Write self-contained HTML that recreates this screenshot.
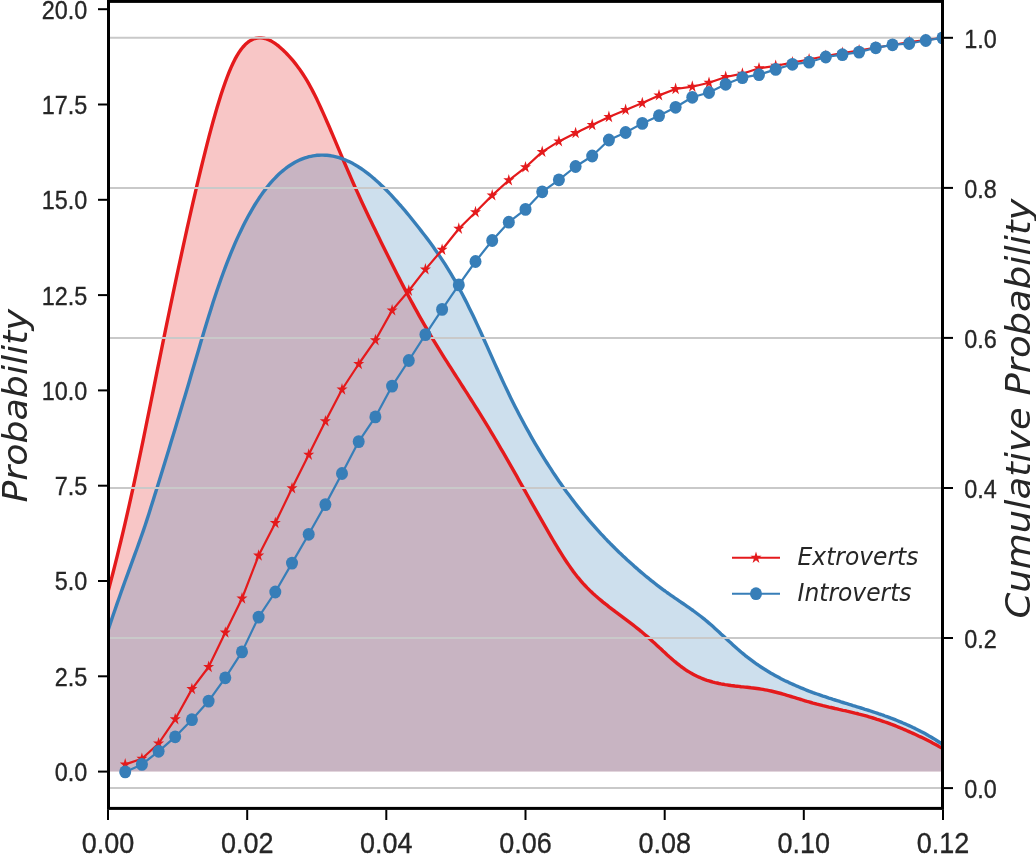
<!DOCTYPE html><html><head><meta charset="utf-8"><title>Probability</title>
<style>html,body{margin:0;padding:0;background:#fff}svg{display:block}.t{font-family:"Liberation Sans",sans-serif;fill:#262626;stroke:#262626;stroke-width:0.35px}.l{font-family:"DejaVu Sans","Liberation Sans",sans-serif;font-style:italic;fill:#262626}</style></head><body>
<svg width="1036" height="854" viewBox="0 0 1036 854">
<rect width="1036" height="854" fill="#fff"/>
<defs><clipPath id="ax"><rect x="108.5" y="1.4" width="834.0" height="807.0"/></clipPath></defs>
<g clip-path="url(#ax)">
<path d="M107.0,595.6 L109.0,588.1 L111.0,580.4 L113.0,572.7 L115.0,564.8 L117.0,556.8 L119.0,548.7 L121.0,540.5 L123.0,532.1 L125.0,523.6 L127.0,514.9 L129.0,506.1 L131.0,497.2 L133.0,488.1 L135.0,478.9 L137.0,469.5 L139.0,460.0 L141.0,450.5 L143.0,440.8 L145.0,431.0 L147.0,421.2 L149.0,411.4 L151.0,401.5 L153.0,391.6 L155.0,381.6 L157.0,371.7 L159.0,361.8 L161.0,352.0 L163.0,342.2 L165.0,332.4 L167.0,322.7 L169.0,313.0 L171.0,303.4 L173.0,293.8 L175.0,284.3 L177.0,274.9 L179.0,265.5 L181.0,256.3 L183.0,247.1 L185.0,238.0 L187.0,228.9 L189.0,220.0 L191.0,211.2 L193.0,202.4 L195.0,193.8 L197.0,185.2 L199.0,176.8 L201.0,168.5 L203.0,160.3 L205.0,152.3 L207.0,144.4 L209.0,136.6 L211.0,129.1 L213.0,121.8 L215.0,114.7 L217.0,107.8 L219.0,101.2 L221.0,94.8 L223.0,88.7 L225.0,83.0 L227.0,77.5 L229.0,72.4 L231.0,67.6 L233.0,63.2 L235.0,59.2 L237.0,55.6 L239.0,52.4 L241.0,49.5 L243.0,47.0 L245.0,44.8 L247.0,43.0 L249.0,41.4 L251.0,40.2 L253.0,39.2 L255.0,38.5 L257.0,38.1 L259.0,37.9 L261.0,37.9 L263.0,38.1 L265.0,38.5 L267.0,39.2 L269.0,40.0 L271.0,40.9 L273.0,42.1 L275.0,43.4 L277.0,44.8 L279.0,46.4 L281.0,48.2 L283.0,50.0 L285.0,51.9 L287.0,54.0 L289.0,56.1 L291.0,58.3 L293.0,60.7 L295.0,63.1 L297.0,65.7 L299.0,68.4 L301.0,71.3 L303.0,74.3 L305.0,77.4 L307.0,80.7 L309.0,84.2 L311.0,87.8 L313.0,91.6 L315.0,95.6 L317.0,99.6 L319.0,103.9 L321.0,108.2 L323.0,112.6 L325.0,117.1 L327.0,121.7 L329.0,126.3 L331.0,131.0 L333.0,135.7 L335.0,140.4 L337.0,145.1 L339.0,149.9 L341.0,154.6 L343.0,159.3 L345.0,164.0 L347.0,168.7 L349.0,173.3 L351.0,177.9 L353.0,182.5 L355.0,187.0 L357.0,191.4 L359.0,195.8 L361.0,200.2 L363.0,204.5 L365.0,208.7 L367.0,213.0 L369.0,217.2 L371.0,221.3 L373.0,225.5 L375.0,229.6 L377.0,233.7 L379.0,237.8 L381.0,241.9 L383.0,246.0 L385.0,250.1 L387.0,254.1 L389.0,258.1 L391.0,262.1 L393.0,266.1 L395.0,270.1 L397.0,274.0 L399.0,277.9 L401.0,281.8 L403.0,285.6 L405.0,289.5 L407.0,293.3 L409.0,297.0 L411.0,300.7 L413.0,304.4 L415.0,308.1 L417.0,311.7 L419.0,315.3 L421.0,318.8 L423.0,322.3 L425.0,325.8 L427.0,329.2 L429.0,332.6 L431.0,336.0 L433.0,339.3 L435.0,342.6 L437.0,345.9 L439.0,349.1 L441.0,352.4 L443.0,355.6 L445.0,358.8 L447.0,361.9 L449.0,365.1 L451.0,368.2 L453.0,371.4 L455.0,374.5 L457.0,377.6 L459.0,380.7 L461.0,383.8 L463.0,387.0 L465.0,390.1 L467.0,393.2 L469.0,396.3 L471.0,399.5 L473.0,402.6 L475.0,405.8 L477.0,409.0 L479.0,412.2 L481.0,415.4 L483.0,418.6 L485.0,421.9 L487.0,425.1 L489.0,428.4 L491.0,431.8 L493.0,435.1 L495.0,438.5 L497.0,441.9 L499.0,445.3 L501.0,448.8 L503.0,452.2 L505.0,455.7 L507.0,459.2 L509.0,462.7 L511.0,466.2 L513.0,469.7 L515.0,473.2 L517.0,476.7 L519.0,480.3 L521.0,483.8 L523.0,487.4 L525.0,490.9 L527.0,494.5 L529.0,498.0 L531.0,501.6 L533.0,505.1 L535.0,508.6 L537.0,512.2 L539.0,515.7 L541.0,519.2 L543.0,522.7 L545.0,526.2 L547.0,529.7 L549.0,533.1 L551.0,536.6 L553.0,540.0 L555.0,543.4 L557.0,546.7 L559.0,550.0 L561.0,553.2 L563.0,556.4 L565.0,559.5 L567.0,562.5 L569.0,565.4 L571.0,568.3 L573.0,571.1 L575.0,573.7 L577.0,576.3 L579.0,578.7 L581.0,581.1 L583.0,583.4 L585.0,585.5 L587.0,587.6 L589.0,589.6 L591.0,591.6 L593.0,593.5 L595.0,595.3 L597.0,597.0 L599.0,598.7 L601.0,600.4 L603.0,602.1 L605.0,603.7 L607.0,605.2 L609.0,606.8 L611.0,608.3 L613.0,609.8 L615.0,611.4 L617.0,612.9 L619.0,614.4 L621.0,615.9 L623.0,617.4 L625.0,618.9 L627.0,620.4 L629.0,621.9 L631.0,623.4 L633.0,624.9 L635.0,626.5 L637.0,628.1 L639.0,629.7 L641.0,631.3 L643.0,633.0 L645.0,634.7 L647.0,636.4 L649.0,638.1 L651.0,639.9 L653.0,641.8 L655.0,643.6 L657.0,645.4 L659.0,647.3 L661.0,649.1 L663.0,651.0 L665.0,652.8 L667.0,654.7 L669.0,656.5 L671.0,658.2 L673.0,660.0 L675.0,661.7 L677.0,663.3 L679.0,664.9 L681.0,666.5 L683.0,667.9 L685.0,669.4 L687.0,670.7 L689.0,671.9 L691.0,673.1 L693.0,674.2 L695.0,675.3 L697.0,676.3 L699.0,677.2 L701.0,678.0 L703.0,678.8 L705.0,679.6 L707.0,680.3 L709.0,680.9 L711.0,681.5 L713.0,682.1 L715.0,682.6 L717.0,683.0 L719.0,683.5 L721.0,683.9 L723.0,684.2 L725.0,684.6 L727.0,684.9 L729.0,685.2 L731.0,685.5 L733.0,685.7 L735.0,686.0 L737.0,686.2 L739.0,686.4 L741.0,686.7 L743.0,686.9 L745.0,687.1 L747.0,687.3 L749.0,687.5 L751.0,687.8 L753.0,688.0 L755.0,688.2 L757.0,688.5 L759.0,688.8 L761.0,689.1 L763.0,689.4 L765.0,689.8 L767.0,690.2 L769.0,690.6 L771.0,691.0 L773.0,691.5 L775.0,692.0 L777.0,692.5 L779.0,693.0 L781.0,693.5 L783.0,694.1 L785.0,694.7 L787.0,695.3 L789.0,695.9 L791.0,696.5 L793.0,697.1 L795.0,697.7 L797.0,698.3 L799.0,698.9 L801.0,699.5 L803.0,700.2 L805.0,700.8 L807.0,701.4 L809.0,701.9 L811.0,702.5 L813.0,703.1 L815.0,703.6 L817.0,704.2 L819.0,704.7 L821.0,705.2 L823.0,705.7 L825.0,706.1 L827.0,706.6 L829.0,707.1 L831.0,707.5 L833.0,708.0 L835.0,708.5 L837.0,708.9 L839.0,709.4 L841.0,709.8 L843.0,710.3 L845.0,710.7 L847.0,711.2 L849.0,711.6 L851.0,712.1 L853.0,712.6 L855.0,713.1 L857.0,713.5 L859.0,714.1 L861.0,714.6 L863.0,715.1 L865.0,715.6 L867.0,716.2 L869.0,716.8 L871.0,717.4 L873.0,718.0 L875.0,718.6 L877.0,719.3 L879.0,719.9 L881.0,720.6 L883.0,721.3 L885.0,722.0 L887.0,722.7 L889.0,723.4 L891.0,724.2 L893.0,724.9 L895.0,725.7 L897.0,726.5 L899.0,727.3 L901.0,728.2 L903.0,729.0 L905.0,729.8 L907.0,730.7 L909.0,731.6 L911.0,732.5 L913.0,733.4 L915.0,734.3 L917.0,735.2 L919.0,736.2 L921.0,737.1 L923.0,738.1 L925.0,739.1 L927.0,740.1 L929.0,741.1 L931.0,742.1 L933.0,743.2 L935.0,744.2 L937.0,745.3 L939.0,746.4 L941.0,747.4 L943.0,748.5 L943.0,771.6 L107.0,771.6 Z" fill="#e41a1c" fill-opacity="0.25"/>
<path d="M107.0,633.4 L109.0,627.4 L111.0,621.4 L113.0,615.5 L115.0,609.7 L117.0,603.9 L119.0,598.2 L121.0,592.5 L123.0,586.9 L125.0,581.3 L127.0,575.8 L129.0,570.3 L131.0,564.8 L133.0,559.4 L135.0,553.9 L137.0,548.5 L139.0,542.9 L141.0,537.3 L143.0,531.6 L145.0,525.7 L147.0,519.6 L149.0,513.4 L151.0,507.1 L153.0,500.7 L155.0,494.3 L157.0,487.9 L159.0,481.4 L161.0,474.9 L163.0,468.4 L165.0,461.9 L167.0,455.4 L169.0,448.9 L171.0,442.3 L173.0,435.8 L175.0,429.2 L177.0,422.6 L179.0,416.0 L181.0,409.3 L183.0,402.6 L185.0,395.9 L187.0,389.2 L189.0,382.4 L191.0,375.6 L193.0,368.8 L195.0,362.0 L197.0,355.2 L199.0,348.4 L201.0,341.6 L203.0,334.9 L205.0,328.3 L207.0,321.7 L209.0,315.3 L211.0,308.9 L213.0,302.6 L215.0,296.5 L217.0,290.5 L219.0,284.7 L221.0,279.0 L223.0,273.5 L225.0,268.1 L227.0,262.9 L229.0,257.8 L231.0,252.9 L233.0,248.1 L235.0,243.4 L237.0,238.9 L239.0,234.6 L241.0,230.4 L243.0,226.3 L245.0,222.3 L247.0,218.5 L249.0,214.8 L251.0,211.3 L253.0,207.8 L255.0,204.5 L257.0,201.4 L259.0,198.3 L261.0,195.4 L263.0,192.5 L265.0,189.9 L267.0,187.3 L269.0,184.8 L271.0,182.4 L273.0,180.2 L275.0,178.1 L277.0,176.0 L279.0,174.1 L281.0,172.3 L283.0,170.6 L285.0,169.0 L287.0,167.4 L289.0,166.0 L291.0,164.7 L293.0,163.5 L295.0,162.3 L297.0,161.3 L299.0,160.3 L301.0,159.4 L303.0,158.6 L305.0,157.9 L307.0,157.3 L309.0,156.7 L311.0,156.3 L313.0,155.9 L315.0,155.6 L317.0,155.3 L319.0,155.2 L321.0,155.1 L323.0,155.1 L325.0,155.2 L327.0,155.3 L329.0,155.5 L331.0,155.8 L333.0,156.2 L335.0,156.6 L337.0,157.1 L339.0,157.7 L341.0,158.3 L343.0,159.0 L345.0,159.8 L347.0,160.7 L349.0,161.6 L351.0,162.6 L353.0,163.6 L355.0,164.8 L357.0,165.9 L359.0,167.2 L361.0,168.5 L363.0,169.9 L365.0,171.3 L367.0,172.8 L369.0,174.4 L371.0,176.0 L373.0,177.7 L375.0,179.4 L377.0,181.2 L379.0,183.0 L381.0,184.9 L383.0,186.8 L385.0,188.8 L387.0,190.8 L389.0,192.8 L391.0,194.9 L393.0,197.1 L395.0,199.3 L397.0,201.5 L399.0,203.8 L401.0,206.0 L403.0,208.4 L405.0,210.7 L407.0,213.1 L409.0,215.5 L411.0,218.0 L413.0,220.5 L415.0,223.0 L417.0,225.5 L419.0,228.0 L421.0,230.6 L423.0,233.2 L425.0,235.8 L427.0,238.4 L429.0,241.1 L431.0,243.8 L433.0,246.6 L435.0,249.4 L437.0,252.2 L439.0,255.1 L441.0,258.1 L443.0,261.1 L445.0,264.2 L447.0,267.4 L449.0,270.6 L451.0,273.9 L453.0,277.3 L455.0,280.7 L457.0,284.3 L459.0,287.9 L461.0,291.7 L463.0,295.5 L465.0,299.4 L467.0,303.3 L469.0,307.4 L471.0,311.5 L473.0,315.6 L475.0,319.8 L477.0,324.1 L479.0,328.4 L481.0,332.8 L483.0,337.2 L485.0,341.7 L487.0,346.1 L489.0,350.6 L491.0,355.1 L493.0,359.6 L495.0,364.1 L497.0,368.5 L499.0,372.9 L501.0,377.3 L503.0,381.6 L505.0,385.9 L507.0,390.1 L509.0,394.3 L511.0,398.4 L513.0,402.4 L515.0,406.4 L517.0,410.3 L519.0,414.2 L521.0,418.0 L523.0,421.8 L525.0,425.5 L527.0,429.1 L529.0,432.7 L531.0,436.3 L533.0,439.8 L535.0,443.3 L537.0,446.7 L539.0,450.0 L541.0,453.3 L543.0,456.6 L545.0,459.8 L547.0,463.0 L549.0,466.1 L551.0,469.2 L553.0,472.3 L555.0,475.3 L557.0,478.2 L559.0,481.2 L561.0,484.0 L563.0,486.9 L565.0,489.7 L567.0,492.4 L569.0,495.1 L571.0,497.8 L573.0,500.4 L575.0,503.0 L577.0,505.6 L579.0,508.1 L581.0,510.6 L583.0,513.1 L585.0,515.5 L587.0,517.9 L589.0,520.3 L591.0,522.6 L593.0,524.9 L595.0,527.2 L597.0,529.4 L599.0,531.6 L601.0,533.8 L603.0,535.9 L605.0,538.1 L607.0,540.2 L609.0,542.2 L611.0,544.3 L613.0,546.3 L615.0,548.3 L617.0,550.2 L619.0,552.2 L621.0,554.1 L623.0,556.0 L625.0,557.8 L627.0,559.7 L629.0,561.5 L631.0,563.3 L633.0,565.1 L635.0,566.9 L637.0,568.6 L639.0,570.4 L641.0,572.1 L643.0,573.8 L645.0,575.5 L647.0,577.1 L649.0,578.7 L651.0,580.4 L653.0,581.9 L655.0,583.5 L657.0,585.1 L659.0,586.6 L661.0,588.1 L663.0,589.6 L665.0,591.0 L667.0,592.5 L669.0,593.9 L671.0,595.3 L673.0,596.7 L675.0,598.1 L677.0,599.4 L679.0,600.8 L681.0,602.2 L683.0,603.5 L685.0,604.9 L687.0,606.3 L689.0,607.7 L691.0,609.1 L693.0,610.5 L695.0,612.0 L697.0,613.5 L699.0,615.0 L701.0,616.5 L703.0,618.1 L705.0,619.7 L707.0,621.4 L709.0,623.1 L711.0,624.8 L713.0,626.6 L715.0,628.4 L717.0,630.2 L719.0,632.0 L721.0,633.9 L723.0,635.7 L725.0,637.6 L727.0,639.4 L729.0,641.3 L731.0,643.1 L733.0,644.9 L735.0,646.7 L737.0,648.5 L739.0,650.2 L741.0,652.0 L743.0,653.6 L745.0,655.3 L747.0,656.9 L749.0,658.4 L751.0,659.9 L753.0,661.4 L755.0,662.9 L757.0,664.3 L759.0,665.6 L761.0,667.0 L763.0,668.3 L765.0,669.5 L767.0,670.8 L769.0,672.0 L771.0,673.2 L773.0,674.3 L775.0,675.4 L777.0,676.5 L779.0,677.6 L781.0,678.7 L783.0,679.7 L785.0,680.7 L787.0,681.6 L789.0,682.6 L791.0,683.5 L793.0,684.4 L795.0,685.3 L797.0,686.2 L799.0,687.0 L801.0,687.9 L803.0,688.7 L805.0,689.5 L807.0,690.3 L809.0,691.1 L811.0,691.8 L813.0,692.6 L815.0,693.3 L817.0,694.0 L819.0,694.7 L821.0,695.4 L823.0,696.1 L825.0,696.7 L827.0,697.4 L829.0,698.1 L831.0,698.7 L833.0,699.4 L835.0,700.0 L837.0,700.6 L839.0,701.2 L841.0,701.9 L843.0,702.5 L845.0,703.1 L847.0,703.7 L849.0,704.3 L851.0,704.9 L853.0,705.6 L855.0,706.2 L857.0,706.8 L859.0,707.4 L861.0,708.0 L863.0,708.6 L865.0,709.3 L867.0,709.9 L869.0,710.5 L871.0,711.2 L873.0,711.8 L875.0,712.5 L877.0,713.2 L879.0,713.9 L881.0,714.5 L883.0,715.2 L885.0,716.0 L887.0,716.7 L889.0,717.4 L891.0,718.2 L893.0,718.9 L895.0,719.7 L897.0,720.5 L899.0,721.3 L901.0,722.1 L903.0,723.0 L905.0,723.8 L907.0,724.7 L909.0,725.6 L911.0,726.5 L913.0,727.5 L915.0,728.4 L917.0,729.4 L919.0,730.4 L921.0,731.5 L923.0,732.5 L925.0,733.6 L927.0,734.7 L929.0,735.9 L931.0,737.0 L933.0,738.2 L935.0,739.4 L937.0,740.7 L939.0,742.0 L941.0,743.3 L943.0,744.6 L943.0,771.6 L107.0,771.6 Z" fill="#377eb8" fill-opacity="0.25"/>
<path d="M107.0,595.6 L109.0,588.1 L111.0,580.4 L113.0,572.7 L115.0,564.8 L117.0,556.8 L119.0,548.7 L121.0,540.5 L123.0,532.1 L125.0,523.6 L127.0,514.9 L129.0,506.1 L131.0,497.2 L133.0,488.1 L135.0,478.9 L137.0,469.5 L139.0,460.0 L141.0,450.5 L143.0,440.8 L145.0,431.0 L147.0,421.2 L149.0,411.4 L151.0,401.5 L153.0,391.6 L155.0,381.6 L157.0,371.7 L159.0,361.8 L161.0,352.0 L163.0,342.2 L165.0,332.4 L167.0,322.7 L169.0,313.0 L171.0,303.4 L173.0,293.8 L175.0,284.3 L177.0,274.9 L179.0,265.5 L181.0,256.3 L183.0,247.1 L185.0,238.0 L187.0,228.9 L189.0,220.0 L191.0,211.2 L193.0,202.4 L195.0,193.8 L197.0,185.2 L199.0,176.8 L201.0,168.5 L203.0,160.3 L205.0,152.3 L207.0,144.4 L209.0,136.6 L211.0,129.1 L213.0,121.8 L215.0,114.7 L217.0,107.8 L219.0,101.2 L221.0,94.8 L223.0,88.7 L225.0,83.0 L227.0,77.5 L229.0,72.4 L231.0,67.6 L233.0,63.2 L235.0,59.2 L237.0,55.6 L239.0,52.4 L241.0,49.5 L243.0,47.0 L245.0,44.8 L247.0,43.0 L249.0,41.4 L251.0,40.2 L253.0,39.2 L255.0,38.5 L257.0,38.1 L259.0,37.9 L261.0,37.9 L263.0,38.1 L265.0,38.5 L267.0,39.2 L269.0,40.0 L271.0,40.9 L273.0,42.1 L275.0,43.4 L277.0,44.8 L279.0,46.4 L281.0,48.2 L283.0,50.0 L285.0,51.9 L287.0,54.0 L289.0,56.1 L291.0,58.3 L293.0,60.7 L295.0,63.1 L297.0,65.7 L299.0,68.4 L301.0,71.3 L303.0,74.3 L305.0,77.4 L307.0,80.7 L309.0,84.2 L311.0,87.8 L313.0,91.6 L315.0,95.6 L317.0,99.6 L319.0,103.9 L321.0,108.2 L323.0,112.6 L325.0,117.1 L327.0,121.7 L329.0,126.3 L331.0,131.0 L333.0,135.7 L335.0,140.4 L337.0,145.1 L339.0,149.9 L341.0,154.6 L343.0,159.3 L345.0,164.0 L347.0,168.7 L349.0,173.3 L351.0,177.9 L353.0,182.5 L355.0,187.0 L357.0,191.4 L359.0,195.8 L361.0,200.2 L363.0,204.5 L365.0,208.7 L367.0,213.0 L369.0,217.2 L371.0,221.3 L373.0,225.5 L375.0,229.6 L377.0,233.7 L379.0,237.8 L381.0,241.9 L383.0,246.0 L385.0,250.1 L387.0,254.1 L389.0,258.1 L391.0,262.1 L393.0,266.1 L395.0,270.1 L397.0,274.0 L399.0,277.9 L401.0,281.8 L403.0,285.6 L405.0,289.5 L407.0,293.3 L409.0,297.0 L411.0,300.7 L413.0,304.4 L415.0,308.1 L417.0,311.7 L419.0,315.3 L421.0,318.8 L423.0,322.3 L425.0,325.8 L427.0,329.2 L429.0,332.6 L431.0,336.0 L433.0,339.3 L435.0,342.6 L437.0,345.9 L439.0,349.1 L441.0,352.4 L443.0,355.6 L445.0,358.8 L447.0,361.9 L449.0,365.1 L451.0,368.2 L453.0,371.4 L455.0,374.5 L457.0,377.6 L459.0,380.7 L461.0,383.8 L463.0,387.0 L465.0,390.1 L467.0,393.2 L469.0,396.3 L471.0,399.5 L473.0,402.6 L475.0,405.8 L477.0,409.0 L479.0,412.2 L481.0,415.4 L483.0,418.6 L485.0,421.9 L487.0,425.1 L489.0,428.4 L491.0,431.8 L493.0,435.1 L495.0,438.5 L497.0,441.9 L499.0,445.3 L501.0,448.8 L503.0,452.2 L505.0,455.7 L507.0,459.2 L509.0,462.7 L511.0,466.2 L513.0,469.7 L515.0,473.2 L517.0,476.7 L519.0,480.3 L521.0,483.8 L523.0,487.4 L525.0,490.9 L527.0,494.5 L529.0,498.0 L531.0,501.6 L533.0,505.1 L535.0,508.6 L537.0,512.2 L539.0,515.7 L541.0,519.2 L543.0,522.7 L545.0,526.2 L547.0,529.7 L549.0,533.1 L551.0,536.6 L553.0,540.0 L555.0,543.4 L557.0,546.7 L559.0,550.0 L561.0,553.2 L563.0,556.4 L565.0,559.5 L567.0,562.5 L569.0,565.4 L571.0,568.3 L573.0,571.1 L575.0,573.7 L577.0,576.3 L579.0,578.7 L581.0,581.1 L583.0,583.4 L585.0,585.5 L587.0,587.6 L589.0,589.6 L591.0,591.6 L593.0,593.5 L595.0,595.3 L597.0,597.0 L599.0,598.7 L601.0,600.4 L603.0,602.1 L605.0,603.7 L607.0,605.2 L609.0,606.8 L611.0,608.3 L613.0,609.8 L615.0,611.4 L617.0,612.9 L619.0,614.4 L621.0,615.9 L623.0,617.4 L625.0,618.9 L627.0,620.4 L629.0,621.9 L631.0,623.4 L633.0,624.9 L635.0,626.5 L637.0,628.1 L639.0,629.7 L641.0,631.3 L643.0,633.0 L645.0,634.7 L647.0,636.4 L649.0,638.1 L651.0,639.9 L653.0,641.8 L655.0,643.6 L657.0,645.4 L659.0,647.3 L661.0,649.1 L663.0,651.0 L665.0,652.8 L667.0,654.7 L669.0,656.5 L671.0,658.2 L673.0,660.0 L675.0,661.7 L677.0,663.3 L679.0,664.9 L681.0,666.5 L683.0,667.9 L685.0,669.4 L687.0,670.7 L689.0,671.9 L691.0,673.1 L693.0,674.2 L695.0,675.3 L697.0,676.3 L699.0,677.2 L701.0,678.0 L703.0,678.8 L705.0,679.6 L707.0,680.3 L709.0,680.9 L711.0,681.5 L713.0,682.1 L715.0,682.6 L717.0,683.0 L719.0,683.5 L721.0,683.9 L723.0,684.2 L725.0,684.6 L727.0,684.9 L729.0,685.2 L731.0,685.5 L733.0,685.7 L735.0,686.0 L737.0,686.2 L739.0,686.4 L741.0,686.7 L743.0,686.9 L745.0,687.1 L747.0,687.3 L749.0,687.5 L751.0,687.8 L753.0,688.0 L755.0,688.2 L757.0,688.5 L759.0,688.8 L761.0,689.1 L763.0,689.4 L765.0,689.8 L767.0,690.2 L769.0,690.6 L771.0,691.0 L773.0,691.5 L775.0,692.0 L777.0,692.5 L779.0,693.0 L781.0,693.5 L783.0,694.1 L785.0,694.7 L787.0,695.3 L789.0,695.9 L791.0,696.5 L793.0,697.1 L795.0,697.7 L797.0,698.3 L799.0,698.9 L801.0,699.5 L803.0,700.2 L805.0,700.8 L807.0,701.4 L809.0,701.9 L811.0,702.5 L813.0,703.1 L815.0,703.6 L817.0,704.2 L819.0,704.7 L821.0,705.2 L823.0,705.7 L825.0,706.1 L827.0,706.6 L829.0,707.1 L831.0,707.5 L833.0,708.0 L835.0,708.5 L837.0,708.9 L839.0,709.4 L841.0,709.8 L843.0,710.3 L845.0,710.7 L847.0,711.2 L849.0,711.6 L851.0,712.1 L853.0,712.6 L855.0,713.1 L857.0,713.5 L859.0,714.1 L861.0,714.6 L863.0,715.1 L865.0,715.6 L867.0,716.2 L869.0,716.8 L871.0,717.4 L873.0,718.0 L875.0,718.6 L877.0,719.3 L879.0,719.9 L881.0,720.6 L883.0,721.3 L885.0,722.0 L887.0,722.7 L889.0,723.4 L891.0,724.2 L893.0,724.9 L895.0,725.7 L897.0,726.5 L899.0,727.3 L901.0,728.2 L903.0,729.0 L905.0,729.8 L907.0,730.7 L909.0,731.6 L911.0,732.5 L913.0,733.4 L915.0,734.3 L917.0,735.2 L919.0,736.2 L921.0,737.1 L923.0,738.1 L925.0,739.1 L927.0,740.1 L929.0,741.1 L931.0,742.1 L933.0,743.2 L935.0,744.2 L937.0,745.3 L939.0,746.4 L941.0,747.4 L943.0,748.5" fill="none" stroke="#e41a1c" stroke-width="3.4" stroke-linejoin="round"/>
<path d="M107.0,633.4 L109.0,627.4 L111.0,621.4 L113.0,615.5 L115.0,609.7 L117.0,603.9 L119.0,598.2 L121.0,592.5 L123.0,586.9 L125.0,581.3 L127.0,575.8 L129.0,570.3 L131.0,564.8 L133.0,559.4 L135.0,553.9 L137.0,548.5 L139.0,542.9 L141.0,537.3 L143.0,531.6 L145.0,525.7 L147.0,519.6 L149.0,513.4 L151.0,507.1 L153.0,500.7 L155.0,494.3 L157.0,487.9 L159.0,481.4 L161.0,474.9 L163.0,468.4 L165.0,461.9 L167.0,455.4 L169.0,448.9 L171.0,442.3 L173.0,435.8 L175.0,429.2 L177.0,422.6 L179.0,416.0 L181.0,409.3 L183.0,402.6 L185.0,395.9 L187.0,389.2 L189.0,382.4 L191.0,375.6 L193.0,368.8 L195.0,362.0 L197.0,355.2 L199.0,348.4 L201.0,341.6 L203.0,334.9 L205.0,328.3 L207.0,321.7 L209.0,315.3 L211.0,308.9 L213.0,302.6 L215.0,296.5 L217.0,290.5 L219.0,284.7 L221.0,279.0 L223.0,273.5 L225.0,268.1 L227.0,262.9 L229.0,257.8 L231.0,252.9 L233.0,248.1 L235.0,243.4 L237.0,238.9 L239.0,234.6 L241.0,230.4 L243.0,226.3 L245.0,222.3 L247.0,218.5 L249.0,214.8 L251.0,211.3 L253.0,207.8 L255.0,204.5 L257.0,201.4 L259.0,198.3 L261.0,195.4 L263.0,192.5 L265.0,189.9 L267.0,187.3 L269.0,184.8 L271.0,182.4 L273.0,180.2 L275.0,178.1 L277.0,176.0 L279.0,174.1 L281.0,172.3 L283.0,170.6 L285.0,169.0 L287.0,167.4 L289.0,166.0 L291.0,164.7 L293.0,163.5 L295.0,162.3 L297.0,161.3 L299.0,160.3 L301.0,159.4 L303.0,158.6 L305.0,157.9 L307.0,157.3 L309.0,156.7 L311.0,156.3 L313.0,155.9 L315.0,155.6 L317.0,155.3 L319.0,155.2 L321.0,155.1 L323.0,155.1 L325.0,155.2 L327.0,155.3 L329.0,155.5 L331.0,155.8 L333.0,156.2 L335.0,156.6 L337.0,157.1 L339.0,157.7 L341.0,158.3 L343.0,159.0 L345.0,159.8 L347.0,160.7 L349.0,161.6 L351.0,162.6 L353.0,163.6 L355.0,164.8 L357.0,165.9 L359.0,167.2 L361.0,168.5 L363.0,169.9 L365.0,171.3 L367.0,172.8 L369.0,174.4 L371.0,176.0 L373.0,177.7 L375.0,179.4 L377.0,181.2 L379.0,183.0 L381.0,184.9 L383.0,186.8 L385.0,188.8 L387.0,190.8 L389.0,192.8 L391.0,194.9 L393.0,197.1 L395.0,199.3 L397.0,201.5 L399.0,203.8 L401.0,206.0 L403.0,208.4 L405.0,210.7 L407.0,213.1 L409.0,215.5 L411.0,218.0 L413.0,220.5 L415.0,223.0 L417.0,225.5 L419.0,228.0 L421.0,230.6 L423.0,233.2 L425.0,235.8 L427.0,238.4 L429.0,241.1 L431.0,243.8 L433.0,246.6 L435.0,249.4 L437.0,252.2 L439.0,255.1 L441.0,258.1 L443.0,261.1 L445.0,264.2 L447.0,267.4 L449.0,270.6 L451.0,273.9 L453.0,277.3 L455.0,280.7 L457.0,284.3 L459.0,287.9 L461.0,291.7 L463.0,295.5 L465.0,299.4 L467.0,303.3 L469.0,307.4 L471.0,311.5 L473.0,315.6 L475.0,319.8 L477.0,324.1 L479.0,328.4 L481.0,332.8 L483.0,337.2 L485.0,341.7 L487.0,346.1 L489.0,350.6 L491.0,355.1 L493.0,359.6 L495.0,364.1 L497.0,368.5 L499.0,372.9 L501.0,377.3 L503.0,381.6 L505.0,385.9 L507.0,390.1 L509.0,394.3 L511.0,398.4 L513.0,402.4 L515.0,406.4 L517.0,410.3 L519.0,414.2 L521.0,418.0 L523.0,421.8 L525.0,425.5 L527.0,429.1 L529.0,432.7 L531.0,436.3 L533.0,439.8 L535.0,443.3 L537.0,446.7 L539.0,450.0 L541.0,453.3 L543.0,456.6 L545.0,459.8 L547.0,463.0 L549.0,466.1 L551.0,469.2 L553.0,472.3 L555.0,475.3 L557.0,478.2 L559.0,481.2 L561.0,484.0 L563.0,486.9 L565.0,489.7 L567.0,492.4 L569.0,495.1 L571.0,497.8 L573.0,500.4 L575.0,503.0 L577.0,505.6 L579.0,508.1 L581.0,510.6 L583.0,513.1 L585.0,515.5 L587.0,517.9 L589.0,520.3 L591.0,522.6 L593.0,524.9 L595.0,527.2 L597.0,529.4 L599.0,531.6 L601.0,533.8 L603.0,535.9 L605.0,538.1 L607.0,540.2 L609.0,542.2 L611.0,544.3 L613.0,546.3 L615.0,548.3 L617.0,550.2 L619.0,552.2 L621.0,554.1 L623.0,556.0 L625.0,557.8 L627.0,559.7 L629.0,561.5 L631.0,563.3 L633.0,565.1 L635.0,566.9 L637.0,568.6 L639.0,570.4 L641.0,572.1 L643.0,573.8 L645.0,575.5 L647.0,577.1 L649.0,578.7 L651.0,580.4 L653.0,581.9 L655.0,583.5 L657.0,585.1 L659.0,586.6 L661.0,588.1 L663.0,589.6 L665.0,591.0 L667.0,592.5 L669.0,593.9 L671.0,595.3 L673.0,596.7 L675.0,598.1 L677.0,599.4 L679.0,600.8 L681.0,602.2 L683.0,603.5 L685.0,604.9 L687.0,606.3 L689.0,607.7 L691.0,609.1 L693.0,610.5 L695.0,612.0 L697.0,613.5 L699.0,615.0 L701.0,616.5 L703.0,618.1 L705.0,619.7 L707.0,621.4 L709.0,623.1 L711.0,624.8 L713.0,626.6 L715.0,628.4 L717.0,630.2 L719.0,632.0 L721.0,633.9 L723.0,635.7 L725.0,637.6 L727.0,639.4 L729.0,641.3 L731.0,643.1 L733.0,644.9 L735.0,646.7 L737.0,648.5 L739.0,650.2 L741.0,652.0 L743.0,653.6 L745.0,655.3 L747.0,656.9 L749.0,658.4 L751.0,659.9 L753.0,661.4 L755.0,662.9 L757.0,664.3 L759.0,665.6 L761.0,667.0 L763.0,668.3 L765.0,669.5 L767.0,670.8 L769.0,672.0 L771.0,673.2 L773.0,674.3 L775.0,675.4 L777.0,676.5 L779.0,677.6 L781.0,678.7 L783.0,679.7 L785.0,680.7 L787.0,681.6 L789.0,682.6 L791.0,683.5 L793.0,684.4 L795.0,685.3 L797.0,686.2 L799.0,687.0 L801.0,687.9 L803.0,688.7 L805.0,689.5 L807.0,690.3 L809.0,691.1 L811.0,691.8 L813.0,692.6 L815.0,693.3 L817.0,694.0 L819.0,694.7 L821.0,695.4 L823.0,696.1 L825.0,696.7 L827.0,697.4 L829.0,698.1 L831.0,698.7 L833.0,699.4 L835.0,700.0 L837.0,700.6 L839.0,701.2 L841.0,701.9 L843.0,702.5 L845.0,703.1 L847.0,703.7 L849.0,704.3 L851.0,704.9 L853.0,705.6 L855.0,706.2 L857.0,706.8 L859.0,707.4 L861.0,708.0 L863.0,708.6 L865.0,709.3 L867.0,709.9 L869.0,710.5 L871.0,711.2 L873.0,711.8 L875.0,712.5 L877.0,713.2 L879.0,713.9 L881.0,714.5 L883.0,715.2 L885.0,716.0 L887.0,716.7 L889.0,717.4 L891.0,718.2 L893.0,718.9 L895.0,719.7 L897.0,720.5 L899.0,721.3 L901.0,722.1 L903.0,723.0 L905.0,723.8 L907.0,724.7 L909.0,725.6 L911.0,726.5 L913.0,727.5 L915.0,728.4 L917.0,729.4 L919.0,730.4 L921.0,731.5 L923.0,732.5 L925.0,733.6 L927.0,734.7 L929.0,735.9 L931.0,737.0 L933.0,738.2 L935.0,739.4 L937.0,740.7 L939.0,742.0 L941.0,743.3 L943.0,744.6" fill="none" stroke="#377eb8" stroke-width="3.4" stroke-linejoin="round"/>
</g>
<line x1="108.5" x2="942.5" y1="788.1" y2="788.1" stroke="#c9c9c9" stroke-width="2"/>
<line x1="108.5" x2="942.5" y1="638.0" y2="638.0" stroke="#c9c9c9" stroke-width="2"/>
<line x1="108.5" x2="942.5" y1="488.0" y2="488.0" stroke="#c9c9c9" stroke-width="2"/>
<line x1="108.5" x2="942.5" y1="337.9" y2="337.9" stroke="#c9c9c9" stroke-width="2"/>
<line x1="108.5" x2="942.5" y1="187.9" y2="187.9" stroke="#c9c9c9" stroke-width="2"/>
<line x1="108.5" x2="942.5" y1="37.8" y2="37.8" stroke="#c9c9c9" stroke-width="2"/>
<g clip-path="url(#ax)">
<path d="M125.2,764.4 L141.9,758.8 L158.6,743.5 L175.2,719.2 L191.9,689.1 L208.6,667.0 L225.3,632.6 L242.0,598.5 L258.6,555.6 L275.3,523.0 L292.0,488.3 L308.7,454.7 L325.4,421.3 L342.0,389.5 L358.7,364.0 L375.4,340.2 L392.1,310.4 L408.8,290.7 L425.4,269.4 L442.1,249.8 L458.8,228.7 L475.5,212.2 L492.2,195.4 L508.8,180.3 L525.5,167.3 L542.2,151.9 L558.9,141.4 L575.6,133.1 L592.2,125.0 L608.9,117.0 L625.6,109.9 L642.3,103.1 L659.0,95.4 L675.6,89.0 L692.3,86.7 L709.0,82.8 L725.7,77.0 L742.4,73.7 L759.0,68.3 L775.7,65.8 L792.4,62.5 L809.1,59.5 L825.8,56.0 L842.4,53.0 L859.1,50.5 L875.8,47.5 L892.5,45.0 L909.2,42.0 L925.8,40.0 L942.5,37.9" fill="none" stroke="#e41a1c" stroke-width="2.2" stroke-linejoin="round"/>
<polygon points="125.2,758.0 126.5,762.4 130.7,762.4 127.3,765.2 128.6,769.6 125.2,766.8 121.8,769.6 123.1,765.2 119.7,762.4 123.9,762.4" fill="#e41a1c"/>
<polygon points="141.9,752.4 143.2,756.8 147.4,756.8 144.0,759.6 145.3,764.0 141.9,761.2 138.5,764.0 139.8,759.6 136.4,756.8 140.6,756.8" fill="#e41a1c"/>
<polygon points="158.6,737.1 159.9,741.5 164.1,741.5 160.7,744.3 162.0,748.7 158.6,745.9 155.2,748.7 156.5,744.3 153.0,741.5 157.3,741.5" fill="#e41a1c"/>
<polygon points="175.2,712.8 176.5,717.2 180.8,717.2 177.3,720.0 178.6,724.4 175.2,721.6 171.8,724.4 173.1,720.0 169.7,717.2 173.9,717.2" fill="#e41a1c"/>
<polygon points="191.9,682.7 193.2,687.1 197.4,687.1 194.0,689.9 195.3,694.3 191.9,691.5 188.5,694.3 189.8,689.9 186.4,687.1 190.6,687.1" fill="#e41a1c"/>
<polygon points="208.6,660.6 209.9,665.0 214.1,665.0 210.7,667.8 212.0,672.2 208.6,669.4 205.2,672.2 206.5,667.8 203.1,665.0 207.3,665.0" fill="#e41a1c"/>
<polygon points="225.3,626.2 226.6,630.6 230.8,630.6 227.4,633.4 228.7,637.8 225.3,635.0 221.9,637.8 223.2,633.4 219.8,630.6 224.0,630.6" fill="#e41a1c"/>
<polygon points="242.0,592.1 243.3,596.5 247.5,596.5 244.1,599.3 245.4,603.7 242.0,600.9 238.6,603.7 239.9,599.3 236.4,596.5 240.7,596.5" fill="#e41a1c"/>
<polygon points="258.6,549.2 259.9,553.6 264.2,553.6 260.7,556.4 262.0,560.8 258.6,558.0 255.2,560.8 256.5,556.4 253.1,553.6 257.3,553.6" fill="#e41a1c"/>
<polygon points="275.3,516.6 276.6,521.0 280.8,521.0 277.4,523.8 278.7,528.2 275.3,525.4 271.9,528.2 273.2,523.8 269.8,521.0 274.0,521.0" fill="#e41a1c"/>
<polygon points="292.0,481.9 293.3,486.3 297.5,486.3 294.1,489.1 295.4,493.5 292.0,490.7 288.6,493.5 289.9,489.1 286.5,486.3 290.7,486.3" fill="#e41a1c"/>
<polygon points="308.7,448.3 310.0,452.7 314.2,452.7 310.8,455.5 312.1,459.9 308.7,457.1 305.3,459.9 306.6,455.5 303.2,452.7 307.4,452.7" fill="#e41a1c"/>
<polygon points="325.4,414.9 326.7,419.3 330.9,419.3 327.5,422.1 328.8,426.5 325.4,423.7 322.0,426.5 323.3,422.1 319.8,419.3 324.1,419.3" fill="#e41a1c"/>
<polygon points="342.0,383.1 343.3,387.5 347.6,387.5 344.1,390.3 345.4,394.7 342.0,391.9 338.6,394.7 339.9,390.3 336.5,387.5 340.7,387.5" fill="#e41a1c"/>
<polygon points="358.7,357.6 360.0,362.0 364.2,362.0 360.8,364.8 362.1,369.2 358.7,366.4 355.3,369.2 356.6,364.8 353.2,362.0 357.4,362.0" fill="#e41a1c"/>
<polygon points="375.4,333.8 376.7,338.2 380.9,338.2 377.5,341.0 378.8,345.4 375.4,342.6 372.0,345.4 373.3,341.0 369.9,338.2 374.1,338.2" fill="#e41a1c"/>
<polygon points="392.1,304.0 393.4,308.4 397.6,308.4 394.2,311.2 395.5,315.6 392.1,312.8 388.7,315.6 390.0,311.2 386.6,308.4 390.8,308.4" fill="#e41a1c"/>
<polygon points="408.8,284.3 410.1,288.7 414.3,288.7 410.9,291.5 412.2,295.9 408.8,293.1 405.4,295.9 406.7,291.5 403.2,288.7 407.5,288.7" fill="#e41a1c"/>
<polygon points="425.4,263.0 426.7,267.4 431.0,267.4 427.5,270.2 428.8,274.6 425.4,271.8 422.0,274.6 423.3,270.2 419.9,267.4 424.1,267.4" fill="#e41a1c"/>
<polygon points="442.1,243.4 443.4,247.8 447.6,247.8 444.2,250.6 445.5,255.0 442.1,252.2 438.7,255.0 440.0,250.6 436.6,247.8 440.8,247.8" fill="#e41a1c"/>
<polygon points="458.8,222.3 460.1,226.7 464.3,226.7 460.9,229.5 462.2,233.9 458.8,231.1 455.4,233.9 456.7,229.5 453.3,226.7 457.5,226.7" fill="#e41a1c"/>
<polygon points="475.5,205.8 476.8,210.2 481.0,210.2 477.6,213.0 478.9,217.4 475.5,214.6 472.1,217.4 473.4,213.0 470.0,210.2 474.2,210.2" fill="#e41a1c"/>
<polygon points="492.2,189.0 493.5,193.4 497.7,193.4 494.3,196.2 495.6,200.6 492.2,197.8 488.8,200.6 490.1,196.2 486.6,193.4 490.9,193.4" fill="#e41a1c"/>
<polygon points="508.8,173.9 510.1,178.3 514.4,178.3 510.9,181.1 512.2,185.5 508.8,182.7 505.4,185.5 506.7,181.1 503.3,178.3 507.5,178.3" fill="#e41a1c"/>
<polygon points="525.5,160.9 526.8,165.3 531.0,165.3 527.6,168.1 528.9,172.5 525.5,169.7 522.1,172.5 523.4,168.1 520.0,165.3 524.2,165.3" fill="#e41a1c"/>
<polygon points="542.2,145.5 543.5,149.9 547.7,149.9 544.3,152.7 545.6,157.1 542.2,154.3 538.8,157.1 540.1,152.7 536.7,149.9 540.9,149.9" fill="#e41a1c"/>
<polygon points="558.9,135.0 560.2,139.4 564.4,139.4 561.0,142.2 562.3,146.6 558.9,143.8 555.5,146.6 556.8,142.2 553.4,139.4 557.6,139.4" fill="#e41a1c"/>
<polygon points="575.6,126.7 576.9,131.1 581.1,131.1 577.7,133.9 579.0,138.3 575.6,135.5 572.2,138.3 573.5,133.9 570.0,131.1 574.3,131.1" fill="#e41a1c"/>
<polygon points="592.2,118.6 593.5,123.0 597.8,123.0 594.3,125.8 595.6,130.2 592.2,127.4 588.8,130.2 590.1,125.8 586.7,123.0 590.9,123.0" fill="#e41a1c"/>
<polygon points="608.9,110.6 610.2,115.0 614.4,115.0 611.0,117.8 612.3,122.2 608.9,119.4 605.5,122.2 606.8,117.8 603.4,115.0 607.6,115.0" fill="#e41a1c"/>
<polygon points="625.6,103.5 626.9,107.9 631.1,107.9 627.7,110.7 629.0,115.1 625.6,112.3 622.2,115.1 623.5,110.7 620.1,107.9 624.3,107.9" fill="#e41a1c"/>
<polygon points="642.3,96.7 643.6,101.1 647.8,101.1 644.4,103.9 645.7,108.3 642.3,105.5 638.9,108.3 640.2,103.9 636.8,101.1 641.0,101.1" fill="#e41a1c"/>
<polygon points="659.0,89.0 660.3,93.4 664.5,93.4 661.1,96.2 662.4,100.6 659.0,97.8 655.6,100.6 656.9,96.2 653.4,93.4 657.7,93.4" fill="#e41a1c"/>
<polygon points="675.6,82.6 676.9,87.0 681.2,87.0 677.7,89.8 679.0,94.2 675.6,91.4 672.2,94.2 673.5,89.8 670.1,87.0 674.3,87.0" fill="#e41a1c"/>
<polygon points="692.3,80.3 693.6,84.7 697.8,84.7 694.4,87.5 695.7,91.9 692.3,89.1 688.9,91.9 690.2,87.5 686.8,84.7 691.0,84.7" fill="#e41a1c"/>
<polygon points="709.0,76.4 710.3,80.8 714.5,80.8 711.1,83.6 712.4,88.0 709.0,85.2 705.6,88.0 706.9,83.6 703.5,80.8 707.7,80.8" fill="#e41a1c"/>
<polygon points="725.7,70.6 727.0,75.0 731.2,75.0 727.8,77.8 729.1,82.2 725.7,79.4 722.3,82.2 723.6,77.8 720.2,75.0 724.4,75.0" fill="#e41a1c"/>
<polygon points="742.4,67.3 743.7,71.7 747.9,71.7 744.5,74.5 745.8,78.9 742.4,76.1 739.0,78.9 740.3,74.5 736.8,71.7 741.1,71.7" fill="#e41a1c"/>
<polygon points="759.0,61.9 760.3,66.3 764.6,66.3 761.1,69.1 762.4,73.5 759.0,70.7 755.6,73.5 756.9,69.1 753.5,66.3 757.7,66.3" fill="#e41a1c"/>
<polygon points="775.7,59.4 777.0,63.8 781.2,63.8 777.8,66.6 779.1,71.0 775.7,68.2 772.3,71.0 773.6,66.6 770.2,63.8 774.4,63.8" fill="#e41a1c"/>
<polygon points="792.4,56.1 793.7,60.5 797.9,60.5 794.5,63.3 795.8,67.7 792.4,64.9 789.0,67.7 790.3,63.3 786.9,60.5 791.1,60.5" fill="#e41a1c"/>
<polygon points="809.1,53.1 810.4,57.5 814.6,57.5 811.2,60.3 812.5,64.7 809.1,61.9 805.7,64.7 807.0,60.3 803.6,57.5 807.8,57.5" fill="#e41a1c"/>
<polygon points="825.8,49.6 827.1,54.0 831.3,54.0 827.9,56.8 829.2,61.2 825.8,58.4 822.4,61.2 823.7,56.8 820.2,54.0 824.5,54.0" fill="#e41a1c"/>
<polygon points="842.4,46.6 843.7,51.0 848.0,51.0 844.5,53.8 845.8,58.2 842.4,55.4 839.0,58.2 840.3,53.8 836.9,51.0 841.1,51.0" fill="#e41a1c"/>
<polygon points="859.1,44.1 860.4,48.5 864.6,48.5 861.2,51.3 862.5,55.7 859.1,52.9 855.7,55.7 857.0,51.3 853.6,48.5 857.8,48.5" fill="#e41a1c"/>
<polygon points="875.8,41.1 877.1,45.5 881.3,45.5 877.9,48.3 879.2,52.7 875.8,49.9 872.4,52.7 873.7,48.3 870.3,45.5 874.5,45.5" fill="#e41a1c"/>
<polygon points="892.5,38.6 893.8,43.0 898.0,43.0 894.6,45.8 895.9,50.2 892.5,47.4 889.1,50.2 890.4,45.8 887.0,43.0 891.2,43.0" fill="#e41a1c"/>
<polygon points="909.2,35.6 910.5,40.0 914.7,40.0 911.3,42.8 912.6,47.2 909.2,44.4 905.8,47.2 907.1,42.8 903.6,40.0 907.9,40.0" fill="#e41a1c"/>
<polygon points="925.8,33.6 927.1,38.0 931.4,38.0 927.9,40.8 929.2,45.2 925.8,42.4 922.4,45.2 923.7,40.8 920.3,38.0 924.5,38.0" fill="#e41a1c"/>
<polygon points="942.5,31.5 943.8,35.9 948.0,35.9 944.6,38.7 945.9,43.1 942.5,40.3 939.1,43.1 940.4,38.7 937.0,35.9 941.2,35.9" fill="#e41a1c"/>
<path d="M125.2,771.9 L141.9,764.4 L158.6,751.3 L175.2,736.8 L191.9,719.7 L208.6,701.1 L225.3,677.8 L242.0,651.9 L258.6,617.1 L275.3,592.0 L292.0,563.1 L308.7,534.3 L325.4,504.6 L342.0,473.5 L358.7,441.6 L375.4,416.9 L392.1,386.1 L408.8,360.5 L425.4,334.6 L442.1,309.4 L458.8,284.9 L475.5,261.5 L492.2,240.5 L508.8,222.2 L525.5,209.4 L542.2,191.8 L558.9,179.8 L575.6,166.5 L592.2,156.0 L608.9,140.0 L625.6,132.5 L642.3,123.4 L659.0,115.7 L675.6,107.3 L692.3,97.3 L709.0,92.5 L725.7,84.3 L742.4,77.6 L759.0,74.7 L775.7,69.4 L792.4,64.3 L809.1,62.2 L825.8,57.0 L842.4,54.7 L859.1,52.1 L875.8,47.8 L892.5,44.8 L909.2,43.5 L925.8,40.5 L942.5,37.9" fill="none" stroke="#377eb8" stroke-width="2.2" stroke-linejoin="round"/>
<ellipse cx="125.2" cy="771.9" rx="6.0" ry="6.4" fill="#377eb8"/>
<ellipse cx="141.9" cy="764.4" rx="6.0" ry="6.4" fill="#377eb8"/>
<ellipse cx="158.6" cy="751.3" rx="6.0" ry="6.4" fill="#377eb8"/>
<ellipse cx="175.2" cy="736.8" rx="6.0" ry="6.4" fill="#377eb8"/>
<ellipse cx="191.9" cy="719.7" rx="6.0" ry="6.4" fill="#377eb8"/>
<ellipse cx="208.6" cy="701.1" rx="6.0" ry="6.4" fill="#377eb8"/>
<ellipse cx="225.3" cy="677.8" rx="6.0" ry="6.4" fill="#377eb8"/>
<ellipse cx="242.0" cy="651.9" rx="6.0" ry="6.4" fill="#377eb8"/>
<ellipse cx="258.6" cy="617.1" rx="6.0" ry="6.4" fill="#377eb8"/>
<ellipse cx="275.3" cy="592.0" rx="6.0" ry="6.4" fill="#377eb8"/>
<ellipse cx="292.0" cy="563.1" rx="6.0" ry="6.4" fill="#377eb8"/>
<ellipse cx="308.7" cy="534.3" rx="6.0" ry="6.4" fill="#377eb8"/>
<ellipse cx="325.4" cy="504.6" rx="6.0" ry="6.4" fill="#377eb8"/>
<ellipse cx="342.0" cy="473.5" rx="6.0" ry="6.4" fill="#377eb8"/>
<ellipse cx="358.7" cy="441.6" rx="6.0" ry="6.4" fill="#377eb8"/>
<ellipse cx="375.4" cy="416.9" rx="6.0" ry="6.4" fill="#377eb8"/>
<ellipse cx="392.1" cy="386.1" rx="6.0" ry="6.4" fill="#377eb8"/>
<ellipse cx="408.8" cy="360.5" rx="6.0" ry="6.4" fill="#377eb8"/>
<ellipse cx="425.4" cy="334.6" rx="6.0" ry="6.4" fill="#377eb8"/>
<ellipse cx="442.1" cy="309.4" rx="6.0" ry="6.4" fill="#377eb8"/>
<ellipse cx="458.8" cy="284.9" rx="6.0" ry="6.4" fill="#377eb8"/>
<ellipse cx="475.5" cy="261.5" rx="6.0" ry="6.4" fill="#377eb8"/>
<ellipse cx="492.2" cy="240.5" rx="6.0" ry="6.4" fill="#377eb8"/>
<ellipse cx="508.8" cy="222.2" rx="6.0" ry="6.4" fill="#377eb8"/>
<ellipse cx="525.5" cy="209.4" rx="6.0" ry="6.4" fill="#377eb8"/>
<ellipse cx="542.2" cy="191.8" rx="6.0" ry="6.4" fill="#377eb8"/>
<ellipse cx="558.9" cy="179.8" rx="6.0" ry="6.4" fill="#377eb8"/>
<ellipse cx="575.6" cy="166.5" rx="6.0" ry="6.4" fill="#377eb8"/>
<ellipse cx="592.2" cy="156.0" rx="6.0" ry="6.4" fill="#377eb8"/>
<ellipse cx="608.9" cy="140.0" rx="6.0" ry="6.4" fill="#377eb8"/>
<ellipse cx="625.6" cy="132.5" rx="6.0" ry="6.4" fill="#377eb8"/>
<ellipse cx="642.3" cy="123.4" rx="6.0" ry="6.4" fill="#377eb8"/>
<ellipse cx="659.0" cy="115.7" rx="6.0" ry="6.4" fill="#377eb8"/>
<ellipse cx="675.6" cy="107.3" rx="6.0" ry="6.4" fill="#377eb8"/>
<ellipse cx="692.3" cy="97.3" rx="6.0" ry="6.4" fill="#377eb8"/>
<ellipse cx="709.0" cy="92.5" rx="6.0" ry="6.4" fill="#377eb8"/>
<ellipse cx="725.7" cy="84.3" rx="6.0" ry="6.4" fill="#377eb8"/>
<ellipse cx="742.4" cy="77.6" rx="6.0" ry="6.4" fill="#377eb8"/>
<ellipse cx="759.0" cy="74.7" rx="6.0" ry="6.4" fill="#377eb8"/>
<ellipse cx="775.7" cy="69.4" rx="6.0" ry="6.4" fill="#377eb8"/>
<ellipse cx="792.4" cy="64.3" rx="6.0" ry="6.4" fill="#377eb8"/>
<ellipse cx="809.1" cy="62.2" rx="6.0" ry="6.4" fill="#377eb8"/>
<ellipse cx="825.8" cy="57.0" rx="6.0" ry="6.4" fill="#377eb8"/>
<ellipse cx="842.4" cy="54.7" rx="6.0" ry="6.4" fill="#377eb8"/>
<ellipse cx="859.1" cy="52.1" rx="6.0" ry="6.4" fill="#377eb8"/>
<ellipse cx="875.8" cy="47.8" rx="6.0" ry="6.4" fill="#377eb8"/>
<ellipse cx="892.5" cy="44.8" rx="6.0" ry="6.4" fill="#377eb8"/>
<ellipse cx="909.2" cy="43.5" rx="6.0" ry="6.4" fill="#377eb8"/>
<ellipse cx="925.8" cy="40.5" rx="6.0" ry="6.4" fill="#377eb8"/>
<ellipse cx="942.5" cy="37.9" rx="6.0" ry="6.4" fill="#377eb8"/>
</g>
<rect x="108.5" y="1.4" width="834.0" height="807.0" fill="none" stroke="#000" stroke-width="3"/>
<line x1="98" x2="107.0" y1="771.6" y2="771.6" stroke="#000" stroke-width="2"/>
<text class="t" transform="translate(87.3,781.0) scale(0.9,1)" font-size="26" text-anchor="end" >0.0</text>
<line x1="98" x2="107.0" y1="676.3" y2="676.3" stroke="#000" stroke-width="2"/>
<text class="t" transform="translate(87.3,685.7) scale(0.9,1)" font-size="26" text-anchor="end" >2.5</text>
<line x1="98" x2="107.0" y1="581.0" y2="581.0" stroke="#000" stroke-width="2"/>
<text class="t" transform="translate(87.3,590.4) scale(0.9,1)" font-size="26" text-anchor="end" >5.0</text>
<line x1="98" x2="107.0" y1="485.7" y2="485.7" stroke="#000" stroke-width="2"/>
<text class="t" transform="translate(87.3,495.1) scale(0.9,1)" font-size="26" text-anchor="end" >7.5</text>
<line x1="98" x2="107.0" y1="390.4" y2="390.4" stroke="#000" stroke-width="2"/>
<text class="t" transform="translate(87.3,399.8) scale(0.9,1)" font-size="26" text-anchor="end" >10.0</text>
<line x1="98" x2="107.0" y1="295.1" y2="295.1" stroke="#000" stroke-width="2"/>
<text class="t" transform="translate(87.3,304.5) scale(0.9,1)" font-size="26" text-anchor="end" >12.5</text>
<line x1="98" x2="107.0" y1="199.8" y2="199.8" stroke="#000" stroke-width="2"/>
<text class="t" transform="translate(87.3,209.2) scale(0.9,1)" font-size="26" text-anchor="end" >15.0</text>
<line x1="98" x2="107.0" y1="104.5" y2="104.5" stroke="#000" stroke-width="2"/>
<text class="t" transform="translate(87.3,113.9) scale(0.9,1)" font-size="26" text-anchor="end" >17.5</text>
<line x1="98" x2="107.0" y1="9.2" y2="9.2" stroke="#000" stroke-width="2"/>
<text class="t" transform="translate(87.3,18.6) scale(0.9,1)" font-size="26" text-anchor="end" >20.0</text>
<line x1="944.0" x2="953" y1="788.1" y2="788.1" stroke="#000" stroke-width="2"/>
<text class="t" transform="translate(964.3,797.9) scale(0.9,1)" font-size="26" text-anchor="start" >0.0</text>
<line x1="944.0" x2="953" y1="638.0" y2="638.0" stroke="#000" stroke-width="2"/>
<text class="t" transform="translate(964.3,647.8) scale(0.9,1)" font-size="26" text-anchor="start" >0.2</text>
<line x1="944.0" x2="953" y1="488.0" y2="488.0" stroke="#000" stroke-width="2"/>
<text class="t" transform="translate(964.3,497.8) scale(0.9,1)" font-size="26" text-anchor="start" >0.4</text>
<line x1="944.0" x2="953" y1="337.9" y2="337.9" stroke="#000" stroke-width="2"/>
<text class="t" transform="translate(964.3,347.7) scale(0.9,1)" font-size="26" text-anchor="start" >0.6</text>
<line x1="944.0" x2="953" y1="187.9" y2="187.9" stroke="#000" stroke-width="2"/>
<text class="t" transform="translate(964.3,197.7) scale(0.9,1)" font-size="26" text-anchor="start" >0.8</text>
<line x1="944.0" x2="953" y1="37.8" y2="37.8" stroke="#000" stroke-width="2"/>
<text class="t" transform="translate(964.3,47.6) scale(0.9,1)" font-size="26" text-anchor="start" >1.0</text>
<line x1="108.0" x2="108.0" y1="809.9" y2="820" stroke="#000" stroke-width="2"/>
<text class="t" transform="translate(108.0,853.0) scale(0.89,1)" font-size="30.3" text-anchor="middle" >0.00</text>
<line x1="247.2" x2="247.2" y1="809.9" y2="820" stroke="#000" stroke-width="2"/>
<text class="t" transform="translate(247.2,853.0) scale(0.89,1)" font-size="30.3" text-anchor="middle" >0.02</text>
<line x1="386.3" x2="386.3" y1="809.9" y2="820" stroke="#000" stroke-width="2"/>
<text class="t" transform="translate(386.3,853.0) scale(0.89,1)" font-size="30.3" text-anchor="middle" >0.04</text>
<line x1="525.5" x2="525.5" y1="809.9" y2="820" stroke="#000" stroke-width="2"/>
<text class="t" transform="translate(525.5,853.0) scale(0.89,1)" font-size="30.3" text-anchor="middle" >0.06</text>
<line x1="664.7" x2="664.7" y1="809.9" y2="820" stroke="#000" stroke-width="2"/>
<text class="t" transform="translate(664.7,853.0) scale(0.89,1)" font-size="30.3" text-anchor="middle" >0.08</text>
<line x1="803.8" x2="803.8" y1="809.9" y2="820" stroke="#000" stroke-width="2"/>
<text class="t" transform="translate(803.8,853.0) scale(0.89,1)" font-size="30.3" text-anchor="middle" >0.10</text>
<line x1="943.0" x2="943.0" y1="809.9" y2="820" stroke="#000" stroke-width="2"/>
<text class="t" transform="translate(943.0,853.0) scale(0.89,1)" font-size="30.3" text-anchor="middle" >0.12</text>
<text class="l" transform="translate(26.5,405.8) rotate(-90)" font-size="34" text-anchor="middle" textLength="193.5" lengthAdjust="spacingAndGlyphs">Probability</text>
<text class="l" transform="translate(1029.5,408.5) rotate(-90)" font-size="34" text-anchor="middle" textLength="420" lengthAdjust="spacingAndGlyphs">Cumulative Probability</text>
<line x1="732" x2="780" y1="557.8" y2="557.8" stroke="#e41a1c" stroke-width="2"/>
<polygon points="756.0,551.4 757.3,555.8 761.5,555.8 758.1,558.6 759.4,563.0 756.0,560.2 752.6,563.0 753.9,558.6 750.5,555.8 754.7,555.8" fill="#e41a1c"/>
<line x1="732" x2="780" y1="593.7" y2="593.7" stroke="#377eb8" stroke-width="2"/>
<ellipse cx="756" cy="593.7" rx="6.0" ry="6.4" fill="#377eb8"/>
<text class="l" x="797.5" y="565.3" font-size="24.7" textLength="121" lengthAdjust="spacingAndGlyphs">Extroverts</text>
<text class="l" x="797.5" y="601.3" font-size="24.7" textLength="114" lengthAdjust="spacingAndGlyphs">Introverts</text>
</svg></body></html>
